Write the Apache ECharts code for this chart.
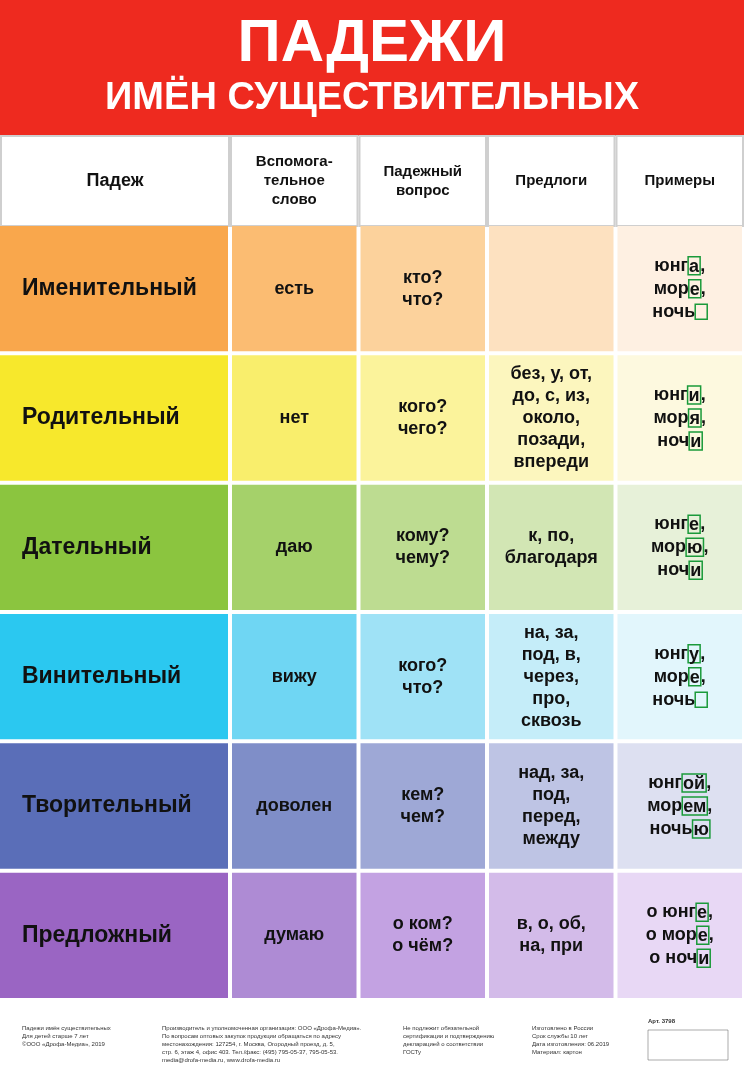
<!DOCTYPE html>
<html><head><meta charset="utf-8">
<script src="https://cdn.jsdelivr.net/npm/echarts@6/dist/echarts.min.js"></script>
<style>html,body{margin:0;padding:0;background:#fff}#c{width:744px;height:1080px}</style>
</head><body><div id="c"></div>
<script>
const headers = ['Падеж','Вспомога-\nтельное\nслово','Падежный\nвопрос','Предлоги','Примеры'];
const cases = ['Именительный','Родительный','Дательный','Винительный','Творительный','Предложный'];
const helpers = ['есть','нет','даю','вижу','доволен','думаю'];
const questions = ['кто?\nчто?','кого?\nчего?','кому?\nчему?','кого?\nчто?','кем?\nчем?','о ком?\nо чём?'];
const prepositions = ['','без, у, от,\nдо, с, из,\nоколо,\nпозади,\nвпереди','к, по,\nблагодаря','на, за,\nпод, в,\nчерез,\nпро,\nсквозь','над, за,\nпод,\nперед,\nмежду','в, о, об,\nна, при'];
const examples = [
  [['юнг','а',','],['мор','е',','],['ночь','','']],
  [['юнг','и',','],['мор','я',','],['ноч','и','']],
  [['юнг','е',','],['мор','ю',','],['ноч','и','']],
  [['юнг','у',','],['мор','е',','],['ночь','','']],
  [['юнг','ой',','],['мор','ем',','],['ночь','ю','']],
  [['о юнг','е',','],['о мор','е',','],['о ноч','и','']]
];
const palette = [
  ['#f9a74c','#fbbc72','#fcd29c','#fde1c0','#fef0e2'],
  ['#f7e82c','#f9ee6c','#fbf39b','#fcf6be','#fdf9df'],
  ['#8bc53f','#a5d16a','#bddc91','#d2e6b4','#e7f1d9'],
  ['#2bc8f0','#6fd6f3','#9fe2f6','#c5edf9','#e2f6fc'],
  ['#5a6eb8','#7f8ec8','#9ea8d6','#bec4e4','#dde0f1'],
  ['#9a65c3','#ae8bd4','#c3a2e2','#d3bbe9','#e8d8f5']
];
const restCols=[1,2,3,4];
const rowsIdx=cases.map((_,i)=>i);
const F='"Liberation Sans", Arial, sans-serif';

function exText(r){
  return examples[r].map(e=>e[0]+(e[1]?'{b|'+e[1]+'}':'{e|}')+e[2]).join('\n');
}
function cellItem(params, api){
  const c=api.value(0), r=api.value(1);
  const p=api.coord([c,r]); const s=api.size([1,1]);
  const x=p[0]-s[0]/2, y=p[1]-s[1]/2, w=s[0], h=s[1];
  const children=[{type:'rect',shape:{x:x+(c===0?0:2),y:y+2,width:w-(c===0?2:4),height:h-4},style:{fill:palette[r][c]}}];
  let txt, st={fill:'#111',font:'bold 18px '+F,textAlign:'center',textVerticalAlign:'middle',x:x+w/2,y:y+h/2,lineHeight:22};
  if(c===0){txt=cases[r]; st.font='bold 23px '+F; st.textAlign='left'; st.x=x+22;}
  else if(c===1) txt=helpers[r];
  else if(c===2) txt=questions[r];
  else if(c===3) txt=prepositions[r];
  else {txt=exText(r); st.lineHeight=23;
    st.rich={b:{font:'bold 18px '+F,fill:'#111',borderColor:'#1a9a3a',borderWidth:1.5,padding:[1,1,-1,1],lineHeight:23},
             e:{width:12,height:15,borderColor:'#1a9a3a',borderWidth:1.5,lineHeight:23}};}
  st.text=txt;
  children.push({type:'text',style:st});
  return {type:'group',children};
}
function headItem(params, api){
  const c=api.value(0);
  const p=api.coord([c,0]); const s=api.size([1,1]);
  const x=p[0]-s[0]/2, y=p[1]-s[1]/2, w=s[0], h=s[1];
  return {type:'group',children:[
    {type:'rect',shape:{x:x+1,y:y,width:w-2,height:h},style:{fill:'#fff',stroke:'#cfcfcf',lineWidth:2}},
    {type:'text',style:{text:headers[c],x:x+w/2,y:y+h/2,textAlign:'center',textVerticalAlign:'middle',font:(c===0?'bold 18px ':'bold 15px ')+F,lineHeight:19,fill:'#111'}}
  ]};
}
const chart=echarts.init(document.getElementById('c'));
const hid={show:false};
function cat(data,g,inv){return {type:'category',data,gridIndex:g,inverse:!!inv,axisLine:hid,axisTick:hid,axisLabel:hid,splitLine:hid};}
chart.setOption({
  animation:false,
  grid:[{left:0,width:230,top:136,height:90},{left:230,right:0,top:136,height:90},
        {left:0,width:230,top:224,height:776},{left:230,right:0,top:224,height:776}],
  xAxis:[cat([0],0),cat(restCols,1),cat([0],2),cat(restCols,3)],
  yAxis:[cat([0],0,1),cat([0],1,1),cat(rowsIdx,2,1),cat(rowsIdx,3,1)],
  series:[
    {type:'custom',xAxisIndex:0,yAxisIndex:0,data:[[0,0]],renderItem:headItem},
    {type:'custom',xAxisIndex:1,yAxisIndex:1,data:restCols.map(c=>[c-1,0]).map((d,i)=>[restCols[i],0]),encode:{x:0,y:1},renderItem:(p,a)=>headItem2(p,a)},
    {type:'custom',xAxisIndex:2,yAxisIndex:2,data:rowsIdx.map(r=>[0,r]),renderItem:cellItem},
    {type:'custom',xAxisIndex:3,yAxisIndex:3,data:rowsIdx.flatMap(r=>restCols.map(c=>[c,r])),renderItem:cellItem2}
  ],
  graphic:[
    {type:'rect',shape:{x:0,y:0,width:744,height:136},style:{fill:'#ee2a1f'}},
    {type:'text',left:'center',top:14,style:{text:'ПАДЕЖИ',font:'bold 60px '+F,fill:'#fff'}},
    {type:'text',left:'center',top:80,style:{text:'ИМЁН СУЩЕСТВИТЕЛЬНЫХ',font:'bold 38px '+F,fill:'#fff'}},
    {type:'text',left:22,top:1024,style:{text:'Падежи имён существительных\nДля детей старше 7 лет\n©ООО «Дрофа-Медиа», 2019',font:'6px '+F,fill:'#333',lineHeight:8}},
    {type:'text',left:162,top:1024,style:{text:'Производитель и уполномоченная организация: ООО «Дрофа-Медиа».\nПо вопросам оптовых закупок продукции обращаться по адресу\nместонахождения: 127254, г. Москва, Огородный проезд, д. 5,\nстр. 6, этаж 4, офис 403. Тел./факс: (495) 795-05-37, 795-05-53.\nmedia@drofa-media.ru, www.drofa-media.ru',font:'6px '+F,fill:'#333',lineHeight:8}},
    {type:'text',left:403,top:1024,style:{text:'Не подлежит обязательной\nсертификации и подтверждению\nдекларацией о соответствии\nГОСТу',font:'6px '+F,fill:'#333',lineHeight:8}},
    {type:'text',left:532,top:1024,style:{text:'Изготовлено в России\nСрок службы 10 лет\nДата изготовления: 06.2019\nМатериал: картон',font:'6px '+F,fill:'#333',lineHeight:8}},
    {type:'text',left:648,top:1018,style:{text:'Арт. 3798',font:'bold 6px '+F,fill:'#333'}},
    {type:'rect',shape:{x:648,y:1030,width:80,height:30},style:{fill:'#fff',stroke:'#555',lineWidth:0.5}}
  ]
});
// for category axes, value 0 maps to first category; translate column numbers to axis indices
function headItem2(p,a){ return headItem(p,{value:i=>i===0?restCols.indexOf(a.value(0))+1:a.value(i),coord:v=>a.coord([v[0]-1,v[1]]),size:a.size}); }
function cellItem2(p,a){ return cellItem(p,{value:i=>i===0?restCols.indexOf(a.value(0))+1:a.value(i),coord:v=>a.coord([v[0]-1,v[1]]),size:a.size}); }
</script></body></html>
